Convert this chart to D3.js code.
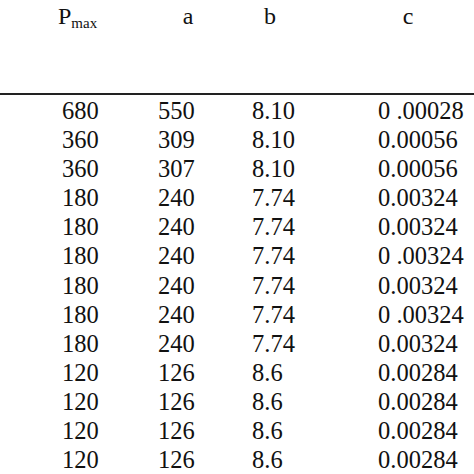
<!DOCTYPE html>
<html><head><meta charset="utf-8">
<script src="https://cdn.jsdelivr.net/npm/d3@7"></script>
<style>body{margin:0;background:#fff}svg{display:block}</style>
</head><body><div id="chart"></div>
<script>
const pmax = [680, 360, 360, 180, 180, 180, 180, 180, 180, 120, 120, 120, 120]
const aVals = ["550", "309", "307", "240", "240", "240", "240", "240", "240", "126", "126", "126", "126"]
const bVals = ["8.10", "8.10", "8.10", "7.74", "7.74", "7.74", "7.74", "7.74", "7.74", "8.6", "8.6", "8.6", "8.6"]
const cVals = ["0 .00028", "0.00056", "0.00056", "0.00324", "0.00324", "0 .00324", "0.00324", "0 .00324", "0.00324", "0.00284", "0.00284", "0.00284", "0.00284"]

const width = 474, height = 474
const svg = d3.select("#chart").append("svg").attr("width", width).attr("height", height)
  .style("font-family", "'Liberation Serif', 'Times New Roman', serif")

// Columnas (borde izquierdo del texto)
const colX = d3.scalePoint().domain(["p", "a", "b", "c"]).range([62, 378])
const colLeft = { p: 62, a: 158, b: 252, c: 378 }

// Filas
const y = d3.scaleBand().domain(d3.range(pmax.length)).range([96, 474]).paddingInner(0)

// Cabecera
const head = svg.append("g").attr("font-size", 24).attr("fill", "#111")
const p = head.append("text").attr("x", 58).attr("y", 24)
p.append("tspan").text("P")
p.append("tspan").attr("font-size", 15).attr("dy", 4).text("max")
head.append("text").attr("x", 188).attr("y", 24).attr("text-anchor", "middle").text("a")
head.append("text").attr("x", 270).attr("y", 24).attr("text-anchor", "middle").text("b")
head.append("text").attr("x", 408).attr("y", 24).attr("text-anchor", "middle").text("c")

svg.append("line").attr("x1", 0).attr("x2", width).attr("y1", 94).attr("y2", 94)
  .attr("stroke", "#222").attr("stroke-width", 2)

const rows = svg.append("g").attr("font-size", 24.5).attr("fill", "#111")
const cols = [["p", pmax], ["a", aVals], ["b", bVals], ["c", cVals]]
cols.forEach(([k, vals]) => {
  rows.selectAll(null).data(vals).join("text")
    .attr("x", colLeft[k])
    .attr("y", (d, i) => y(i) + y.bandwidth() / 2 + 8.5)
    .text(d => d)
})
</script></body></html>
